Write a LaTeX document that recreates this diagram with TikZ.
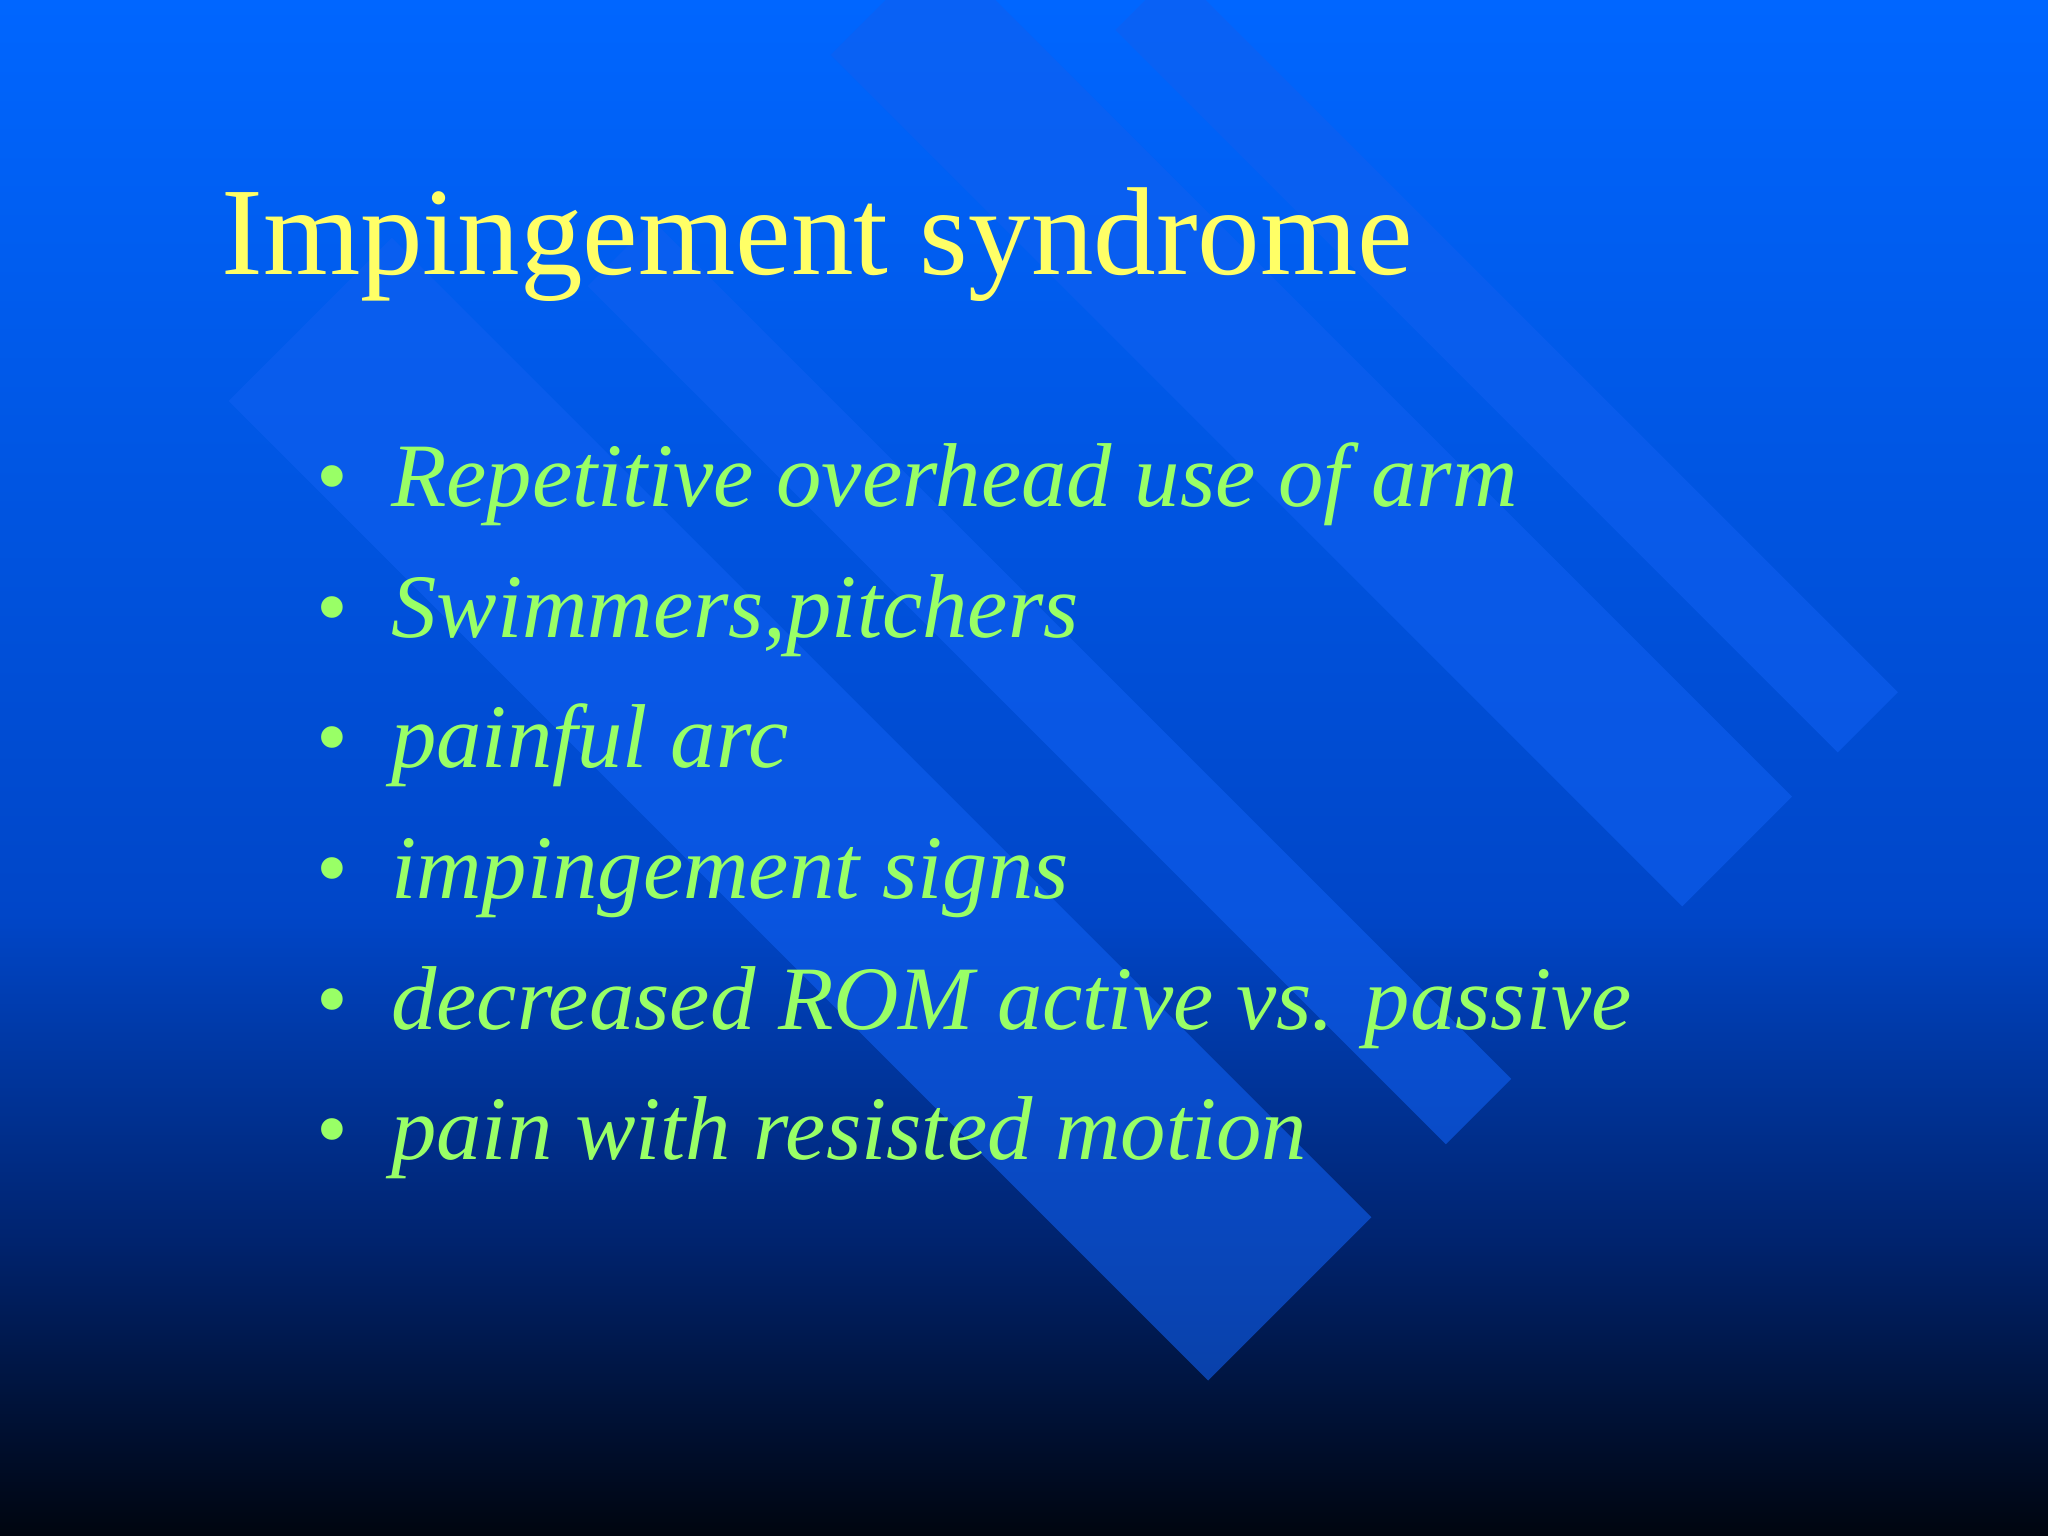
\documentclass[tikz,border=0pt]{standalone}
\usepackage{fontspec}
\setmainfont{Liberation Serif}
\definecolor{ttl}{RGB}{255,255,102}
\definecolor{itm}{RGB}{153,255,102}
\definecolor{bgtop}{RGB}{0,102,255}
\definecolor{bgmid}{RGB}{0,70,200}
\definecolor{bglow}{RGB}{0,35,110}
\definecolor{bgbot}{RGB}{0,5,15}
\definecolor{strp}{RGB}{15,95,240}
\begin{document}
\begin{tikzpicture}[x=0.013061cm,y=-0.013061cm,
  stripe/.style={fill=strp,fill opacity=0.6},
  item/.style={anchor=base west,text=itm,font=\fontsize{25.8pt}{31pt}\selectfont\itshape},
  bul/.style={anchor=base west,text=itm,font=\fontsize{25.8pt}{31pt}\selectfont}]
\shade[top color=bgtop,bottom color=bgmid] (0,0) rectangle (1568,701);
\shade[top color=bgmid,bottom color=bglow] (0,700) rectangle (1568,951);
\shade[top color=bglow,bottom color=bgbot] (0,950) rectangle (1568,1176);
\useasboundingbox (0,0) rectangle (1568,1176);
\fill[stripe] (925,1057) -- (1050,932) -- (300,182) -- (175,307) -- cycle;
\fill[stripe] (1107,876) -- (1157,826) -- (500,169) -- (450,219) -- cycle;
\fill[stripe] (1288,694) -- (1372,610) -- (720,-42) -- (636,42) -- cycle;
\fill[stripe] (1407,576) -- (1453,530) -- (900,-23) -- (854,23) -- cycle;
\node[anchor=base west,text=ttl,font=\fontsize{35.6pt}{43pt}\selectfont] (title) at (160,210) {Impingement syndrome};
\foreach \t [count=\i] in {Repetitive overhead use of arm,{Swimmers,pitchers},painful arc,impingement signs,decreased ROM active vs. passive,pain with resisted motion}{
  \node[bul] (b\i) at (233,288+\i*100) {•};
  \node[item] (t\i) at (290,288+\i*100) {\t};
}
\end{tikzpicture}
\end{document}
